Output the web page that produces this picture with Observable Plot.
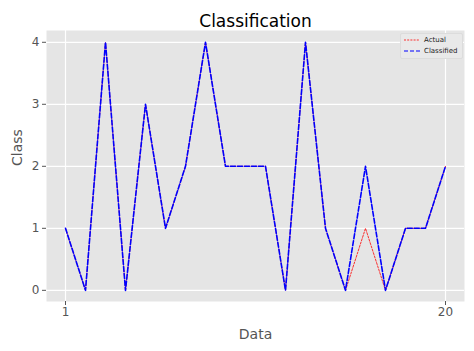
<!DOCTYPE html>
<html><head><meta charset="utf-8">
<script src="https://cdn.jsdelivr.net/npm/d3@7"></script>
<script src="https://cdn.jsdelivr.net/npm/@observablehq/plot@0.6"></script>
<style>
body{margin:0;background:#fff;font-family:"DejaVu Sans",sans-serif;}
#wrap{position:relative;width:474px;height:351px;}
.legend{position:absolute;left:400px;top:33px;width:61px;height:24px;background:#E9E9E9;border:1px solid #dcdcdc;border-radius:2px;font-size:7px;color:#222;}
.legend div{display:flex;align-items:center;height:11px;padding-left:3px;}
.legend svg{margin-right:4px;}
</style></head>
<body><div id="wrap"></div>
<script>
const dataIndex = [1,2,3,4,5,6,7,8,9,10,11,12,13,14,15,16,17,18,19,20];
const actual =     [1,0,4,0,3,1,2,4,2,2,2,0,4,1,0,1,0,1,1,2];
const classified = [1,0,4,0,3,1,2,4,2,2,2,0,4,1,0,2,0,1,1,2];
const xTicks = [1,20];
const yTicks = [0,1,2,3,4];
const seriesNames = ["Actual","Classified"];

const rows = dataIndex.map((d,i)=>({x:d, actual:actual[i], classified:classified[i]}));

const chart = Plot.plot({
  width:474, height:351,
  marginTop:30, marginLeft:46, marginRight:10, marginBottom:50,
  style:{fontFamily:"DejaVu Sans, sans-serif", background:"#fff", overflow:"visible"},
  x:{domain:[0.05,20.95], label:null},
  y:{domain:[-0.18,4.19], label:null},
  marks:[
    Plot.frame({fill:"#E5E5E5", stroke:null}),
    Plot.gridY(yTicks,{stroke:"#fff", strokeOpacity:1, strokeWidth:1.2}),
    Plot.gridX(xTicks,{stroke:"#fff", strokeOpacity:1, strokeWidth:1.2}),
    Plot.axisY({ticks:yTicks, tickFormat:d3.format("d"), tickSize:4, stroke:"#555", fill:"#555", fontSize:12, tickPadding:3, label:null}),
    Plot.axisX({ticks:xTicks, tickFormat:d3.format("d"), tickSize:4, stroke:"#555", fill:"#555", fontSize:12, tickPadding:2, label:null}),
    Plot.lineY(rows,{x:"x", y:"actual", stroke:"#FF0000", strokeWidth:0.8, strokeDasharray:"2,1.5"}),
    Plot.lineY(rows,{x:"x", y:"classified", stroke:"#0000FF", strokeWidth:1.6, strokeDasharray:"5,2"}),
    Plot.text(["Classification"],{frameAnchor:"top", dy:-16, fontSize:17, fill:"#000"}),
    Plot.text(["Data"],{frameAnchor:"bottom", dy:37, fontSize:14, fill:"#555"}),
    Plot.text(["Class"],{frameAnchor:"left", dx:-29, rotate:-90, fontSize:14, fill:"#555"})
  ]
});
const wrap = document.getElementById("wrap");
wrap.appendChild(chart);
const colors = ["#FF0000","#0000FF"];
const dashes = ["2,1.2","4,2"];
const leg = document.createElement("div");
leg.className = "legend";
leg.innerHTML = seriesNames.map((n,i)=>`<div><svg width="16" height="4"><line x1="0" y1="2" x2="16" y2="2" stroke="${colors[i]}" stroke-width="${i?1.2:0.8}" stroke-dasharray="${dashes[i]}"/></svg>${n}</div>`).join("");
wrap.appendChild(leg);
</script></body></html>
